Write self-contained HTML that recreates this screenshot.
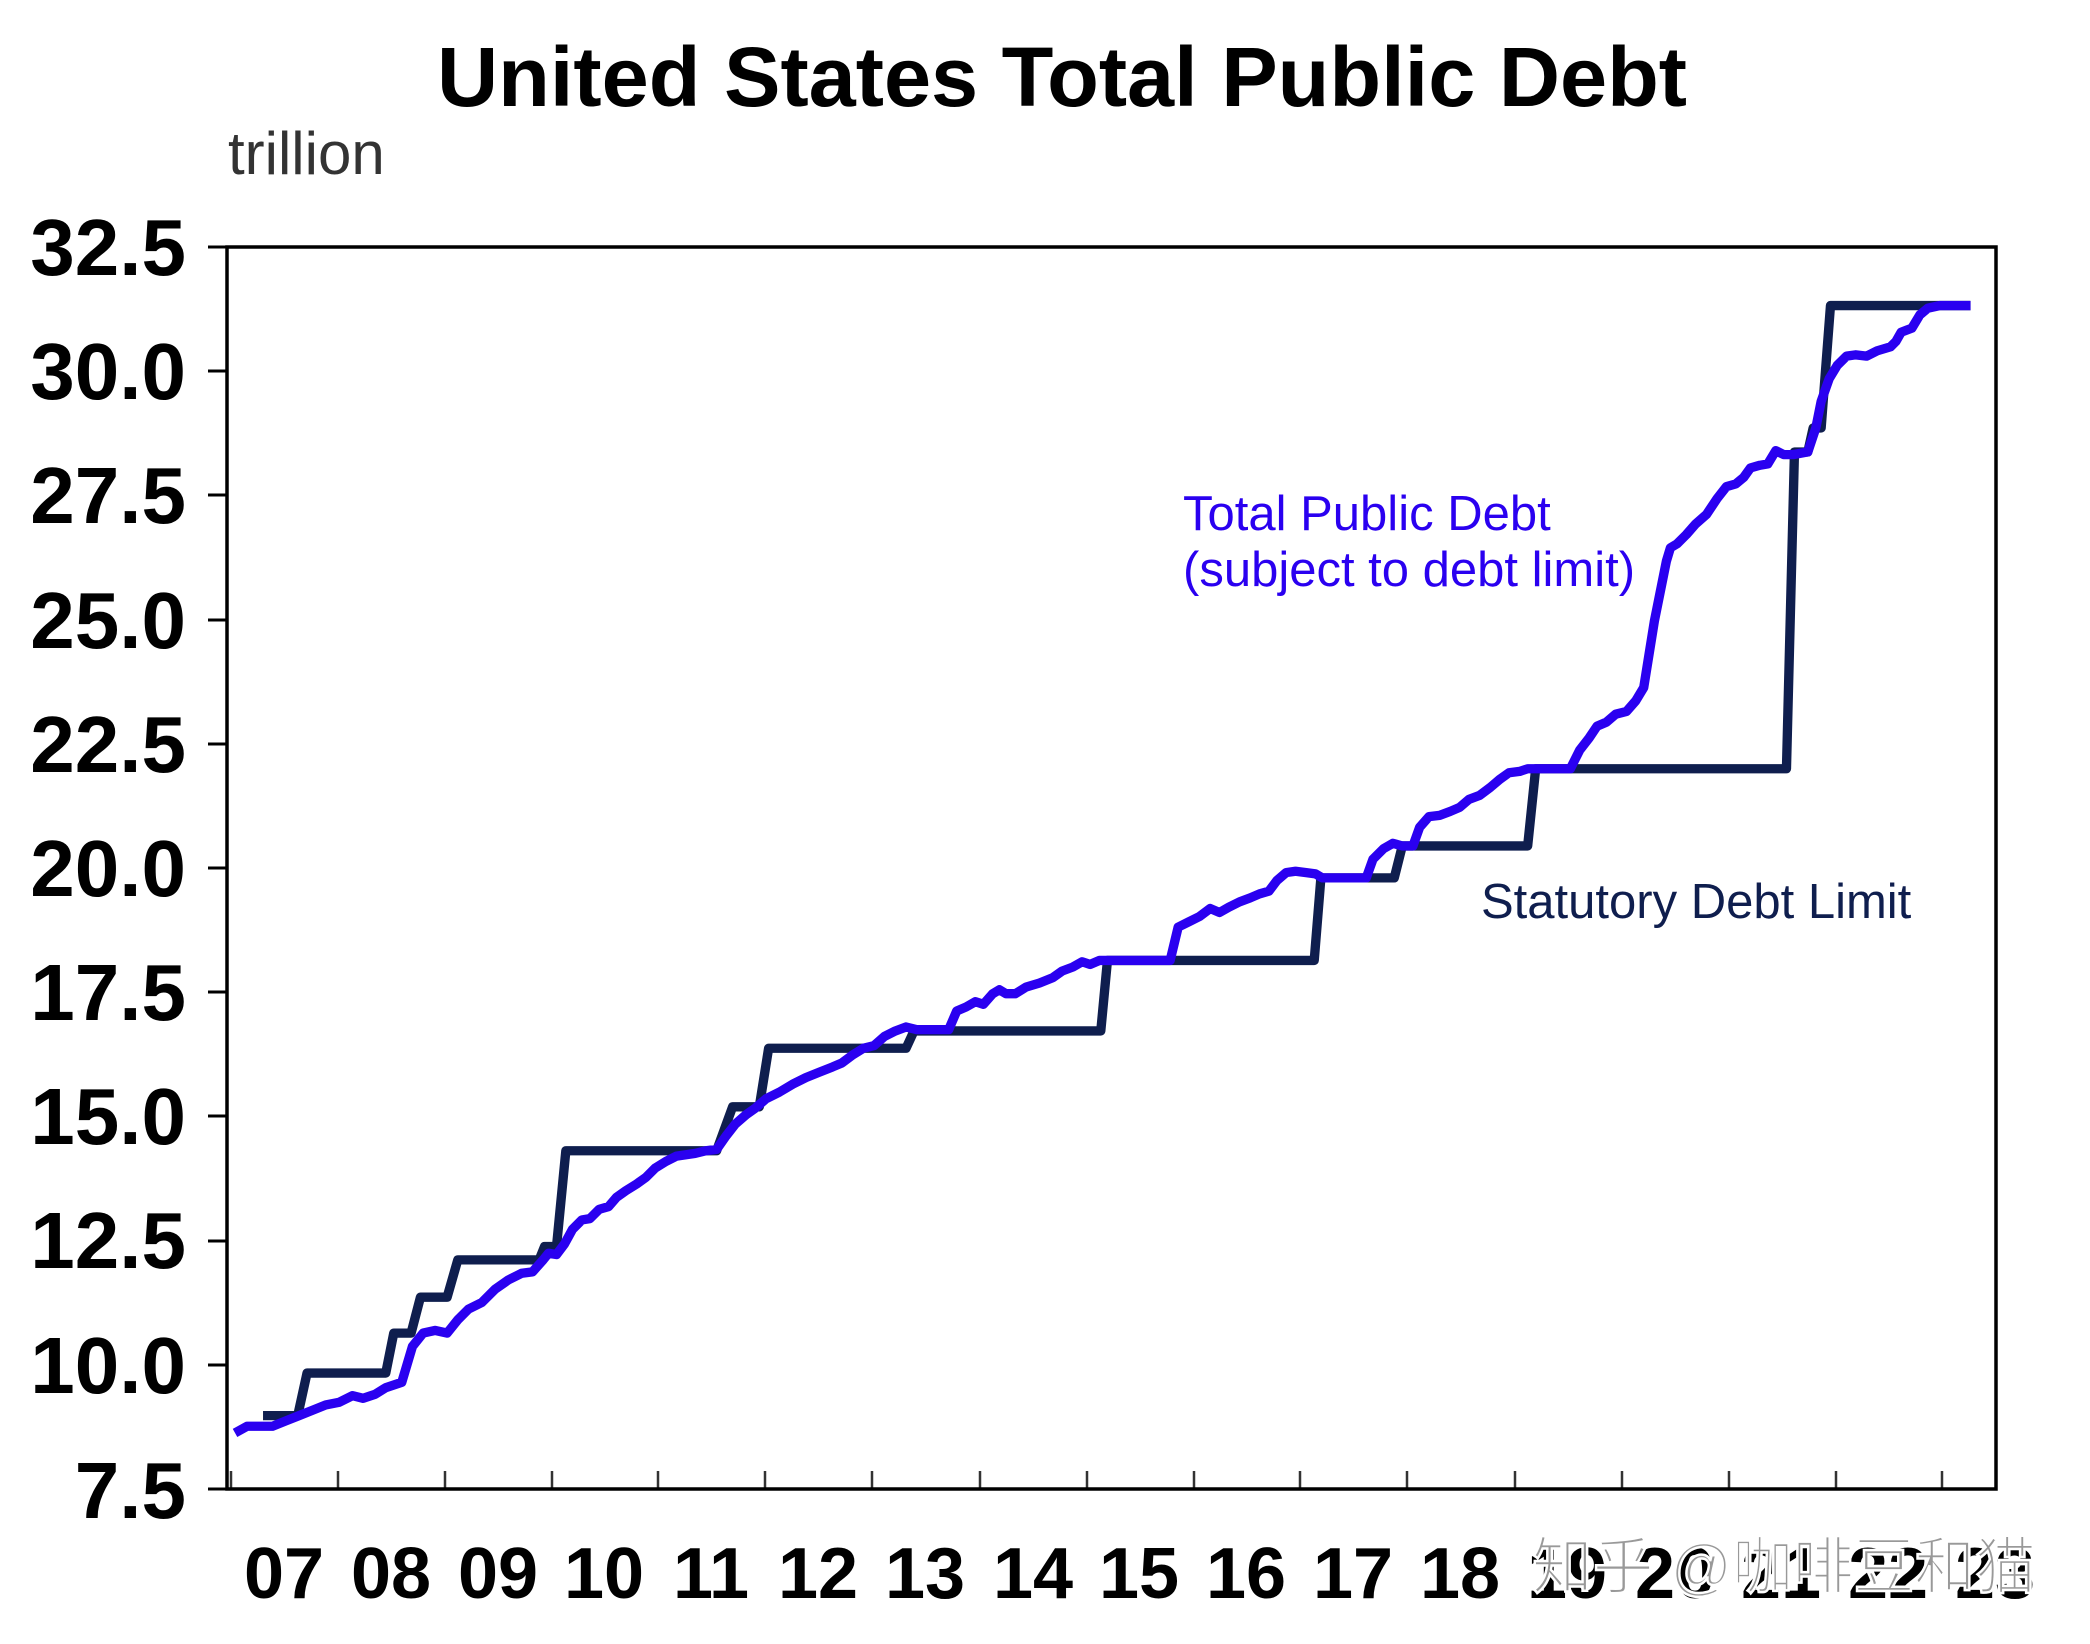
<!DOCTYPE html>
<html><head><meta charset="utf-8"><style>
html,body{margin:0;padding:0;background:#fff;}
svg{display:block;}
</style></head><body>
<svg width="2090" height="1644" viewBox="0 0 2090 1644" xmlns="http://www.w3.org/2000/svg">
<rect width="2090" height="1644" fill="#fff"/>
<text x="1062" y="106" text-anchor="middle" font-family="Liberation Sans, Arial, sans-serif" font-weight="bold" font-size="84" fill="#000" textLength="1250" lengthAdjust="spacingAndGlyphs">United States Total Public Debt</text>
<text x="228" y="174" font-family="Liberation Sans, Arial, sans-serif" font-size="60" fill="#333">trillion</text>

<g font-family="Liberation Sans, Arial, sans-serif" font-weight="bold" font-size="80" fill="#000" text-anchor="end">
<text x="186" y="275">32.5</text>
<text x="186" y="399">30.0</text>
<text x="186" y="523">27.5</text>
<text x="186" y="648">25.0</text>
<text x="186" y="772">22.5</text>
<text x="186" y="896">20.0</text>
<text x="186" y="1020">17.5</text>
<text x="186" y="1144">15.0</text>
<text x="186" y="1268">12.5</text>
<text x="186" y="1393">10.0</text>
<text x="186" y="1518">7.5</text>
</g>
<g stroke="#000" stroke-width="3">
<line x1="208" y1="247" x2="227" y2="247"/><line x1="208" y1="371" x2="227" y2="371"/>
<line x1="208" y1="495" x2="227" y2="495"/><line x1="208" y1="620" x2="227" y2="620"/>
<line x1="208" y1="744" x2="227" y2="744"/><line x1="208" y1="868" x2="227" y2="868"/>
<line x1="208" y1="992" x2="227" y2="992"/><line x1="208" y1="1116" x2="227" y2="1116"/>
<line x1="208" y1="1241" x2="227" y2="1241"/><line x1="208" y1="1365" x2="227" y2="1365"/>
<line x1="208" y1="1489" x2="227" y2="1489"/>
</g>
<g stroke="#333" stroke-width="2.5">
<line x1="231" y1="1471" x2="231" y2="1489"/><line x1="338" y1="1471" x2="338" y2="1489"/>
<line x1="445" y1="1471" x2="445" y2="1489"/><line x1="552" y1="1471" x2="552" y2="1489"/>
<line x1="658" y1="1471" x2="658" y2="1489"/><line x1="765" y1="1471" x2="765" y2="1489"/>
<line x1="872" y1="1471" x2="872" y2="1489"/><line x1="980" y1="1471" x2="980" y2="1489"/>
<line x1="1087" y1="1471" x2="1087" y2="1489"/><line x1="1194" y1="1471" x2="1194" y2="1489"/>
<line x1="1300" y1="1471" x2="1300" y2="1489"/><line x1="1407" y1="1471" x2="1407" y2="1489"/>
<line x1="1515" y1="1471" x2="1515" y2="1489"/><line x1="1622" y1="1471" x2="1622" y2="1489"/>
<line x1="1729" y1="1471" x2="1729" y2="1489"/><line x1="1836" y1="1471" x2="1836" y2="1489"/>
<line x1="1942" y1="1471" x2="1942" y2="1489"/>
</g>
<rect x="227" y="247" width="1769" height="1242" fill="none" stroke="#000" stroke-width="3.5"/>

<g transform="translate(-1.1,2.1) scale(1.334,1.331)" fill="none" stroke-linejoin="round">
<polyline stroke="#0f1e4e" stroke-width="7" points="198,1062 224,1062 231,1030 290,1030 296,1000 309,1000 316,973 336,973 344,945 405,945 409,935 418,935 425,863 538,863 550,830 570,830 577,786 680,786 686,773 826,773 831,720 986,720 991,658 1046,658 1052,634 1146,634 1152,576 1340,576 1346,338 1356,338 1360,320 1366,320 1373,228 1478,228"/>
<polyline stroke="#2a00f0" stroke-width="7" points="177,1075 186,1070 195,1070 205,1070 215,1066 225,1062 235,1058 245,1054 255,1052 265,1047 273,1049 282,1046 290,1041 302,1037 310,1010 318,1000 327,998 336,1000 344,990 352,982 362,977 372,967 382,960 392,955 400,954 408,945 412,940 418,941 424,933 430,922 437,915 443,914 450,907 457,905 463,898 470,893 478,888 485,883 492,876 500,871 508,867 515,866 522,865 530,863 538,862 545,852 552,843 560,836 567,831 575,824 585,819 595,813 605,808 615,804 625,800 632,797 640,791 648,786 656,784 664,777 672,773 680,770 688,772 712,772 718,758 725,755 732,751 738,753 745,745 750,742 755,745 762,745 770,740 780,737 790,733 797,728 805,725 812,721 818,723 825,720 878,720 884,695 892,691 900,687 908,681 915,684 922,680 930,676 938,673 945,670 952,668 958,660 965,654 972,653 980,654 987,655 992,658 1025,658 1030,644 1038,636 1045,632 1052,634 1060,634 1065,620 1072,612 1080,611 1088,608 1095,605 1102,599 1110,596 1118,590 1125,584 1132,579 1140,578 1146,576 1178,576 1185,562 1192,553 1198,544 1205,541 1212,535 1220,533 1227,525 1233,515 1237,490 1241,465 1246,440 1250,420 1253,410 1258,407 1265,400 1272,392 1280,385 1288,373 1295,364 1302,362 1308,357 1313,350 1320,348 1326,347 1332,337 1338,340 1345,340 1356,338 1362,320 1366,300 1372,283 1378,273 1385,266 1392,265 1400,266 1408,262 1418,259 1422,255 1426,248 1434,245 1440,235 1446,230 1455,228 1478,228"/>
</g>

<g font-family="Liberation Sans, Arial, sans-serif" font-size="49">
<text x="1183" y="530" fill="#2a00f0">Total Public Debt</text>
<text x="1183" y="586" fill="#2a00f0">(subject to debt limit)</text>
<text x="1481" y="918" fill="#0f1e4e">Statutory Debt Limit</text>
</g>

<g font-family="Liberation Sans, Arial, sans-serif" font-weight="bold" font-size="72" fill="#000" text-anchor="middle">
<text x="284" y="1598">07</text><text x="391" y="1598">08</text><text x="498" y="1598">09</text>
<text x="604" y="1598">10</text><text x="711" y="1598">11</text><text x="818" y="1598">12</text>
<text x="925" y="1598">13</text><text x="1033" y="1598">14</text><text x="1139" y="1598">15</text>
<text x="1246" y="1598">16</text><text x="1353" y="1598">17</text><text x="1460" y="1598">18</text>
<text x="1567" y="1598">19</text><text x="1675" y="1598">20</text><text x="1781" y="1598">21</text>
<text x="1888" y="1598">22</text><text x="1995" y="1598">23</text>
</g>
<text x="1532" y="1588" font-family="Liberation Sans, 'Noto Sans CJK SC', sans-serif" font-size="62" fill="#999" stroke="#fff" stroke-width="2.5" textLength="504" lengthAdjust="spacingAndGlyphs">知乎 @咖啡豆和猫</text>
</svg>
</body></html>
